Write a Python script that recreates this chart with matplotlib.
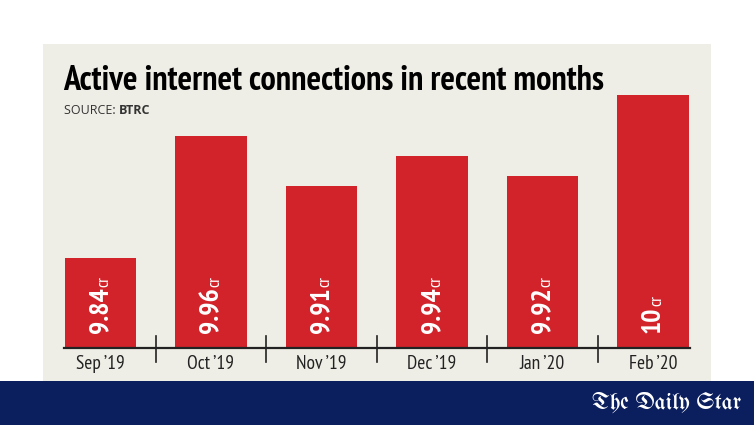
import matplotlib
matplotlib.use("Agg")
import matplotlib.pyplot as plt
from matplotlib.patches import Rectangle
import warnings
warnings.filterwarnings("ignore")

months = ["Sep \u201919", "Oct \u201919", "Nov \u201919", "Dec \u201919", "Jan \u201920", "Feb \u201920"]
values = [9.84, 9.96, 9.91, 9.94, 9.92, 10.0]
value_labels = ["9.84", "9.96", "9.91", "9.94", "9.92", "10"]

COND = ["PT Sans Narrow", "Roboto Condensed", "Fira Sans Condensed", "Archivo Narrow", "DejaVu Sans"]
SRC = ["Open Sans", "DejaVu Sans"]

W, H = 754, 425
fig = plt.figure(figsize=(W / 100, H / 100), dpi=100)
fig.patch.set_facecolor("white")

def fx(px): return px / W
def fy(py): return 1 - py / H

# beige panel
fig.patches.append(Rectangle((fx(43), fy(381)), fx(711) - fx(43), fy(44) - fy(381),
                             transform=fig.transFigure, facecolor="#efeee6", edgecolor="none", zorder=-10))
# navy band
fig.patches.append(Rectangle((0, 0), 1, fy(381), transform=fig.transFigure,
                             facecolor="#0b1f5f", edgecolor="none", zorder=-10))

ax = fig.add_axes([fx(64), fy(348), fx(690) - fx(64), fy(44) - fy(348)])
ax.set_facecolor("none")
x = list(range(len(values)))
ax.bar(x, values, width=0.65, color="#d2232a")
ax.set_xlim(-0.33, len(values) - 1 + 0.335)
ax.set_ylim(9.751, 10.05)
for s in ["top", "right", "left"]:
    ax.spines[s].set_visible(False)
ax.spines["bottom"].set_color("#222222")
ax.spines["bottom"].set_linewidth(1.6)
ax.set_yticks([])
ax.set_xticks(x)
ax.set_xticklabels(months, fontsize=14, family=COND, color="#222222")
ax.tick_params(axis="x", length=0, pad=5)
# separator ticks between bars
for i in range(len(values) - 1):
    ax.plot([i + 0.5, i + 0.5], [-0.045, 0.04], transform=ax.get_xaxis_transform(),
            color="#222222", lw=1.2, clip_on=False)

for i, (v, lab) in enumerate(zip(values, value_labels)):
    t = ax.text(i, 9.751 + 0.015, lab, rotation=90, ha="center", va="bottom",
                color="white", fontsize=20, fontweight="bold", family=COND)
    ax.annotate("cr", xy=(1, 1), xycoords=t, rotation=90, ha="right", va="bottom",
                color="white", fontsize=12.5, family=COND)

fig.text(fx(63), fy(81), "Active internet connections in recent months", fontsize=24.6,
         fontweight="bold", family=COND, va="center", ha="left", color="black")
t1 = fig.text(fx(64), fy(111), "SOURCE: ", fontsize=9, family=SRC, va="center", ha="left", color="#333333")
fig.canvas.draw()
bb = t1.get_window_extent()
fig.text(bb.x1 / W, fy(111), "BTRC", fontsize=9, family=SRC, fontweight="bold",
         color="#333333", va="center", ha="left")

fig.text(fx(741), fy(402), "The Daily Star", fontsize=17, family=["UnifrakturMaguntia", "DejaVu Serif"],
         color="white", ha="right", va="center")

fig.savefig("out.png", dpi=100)
